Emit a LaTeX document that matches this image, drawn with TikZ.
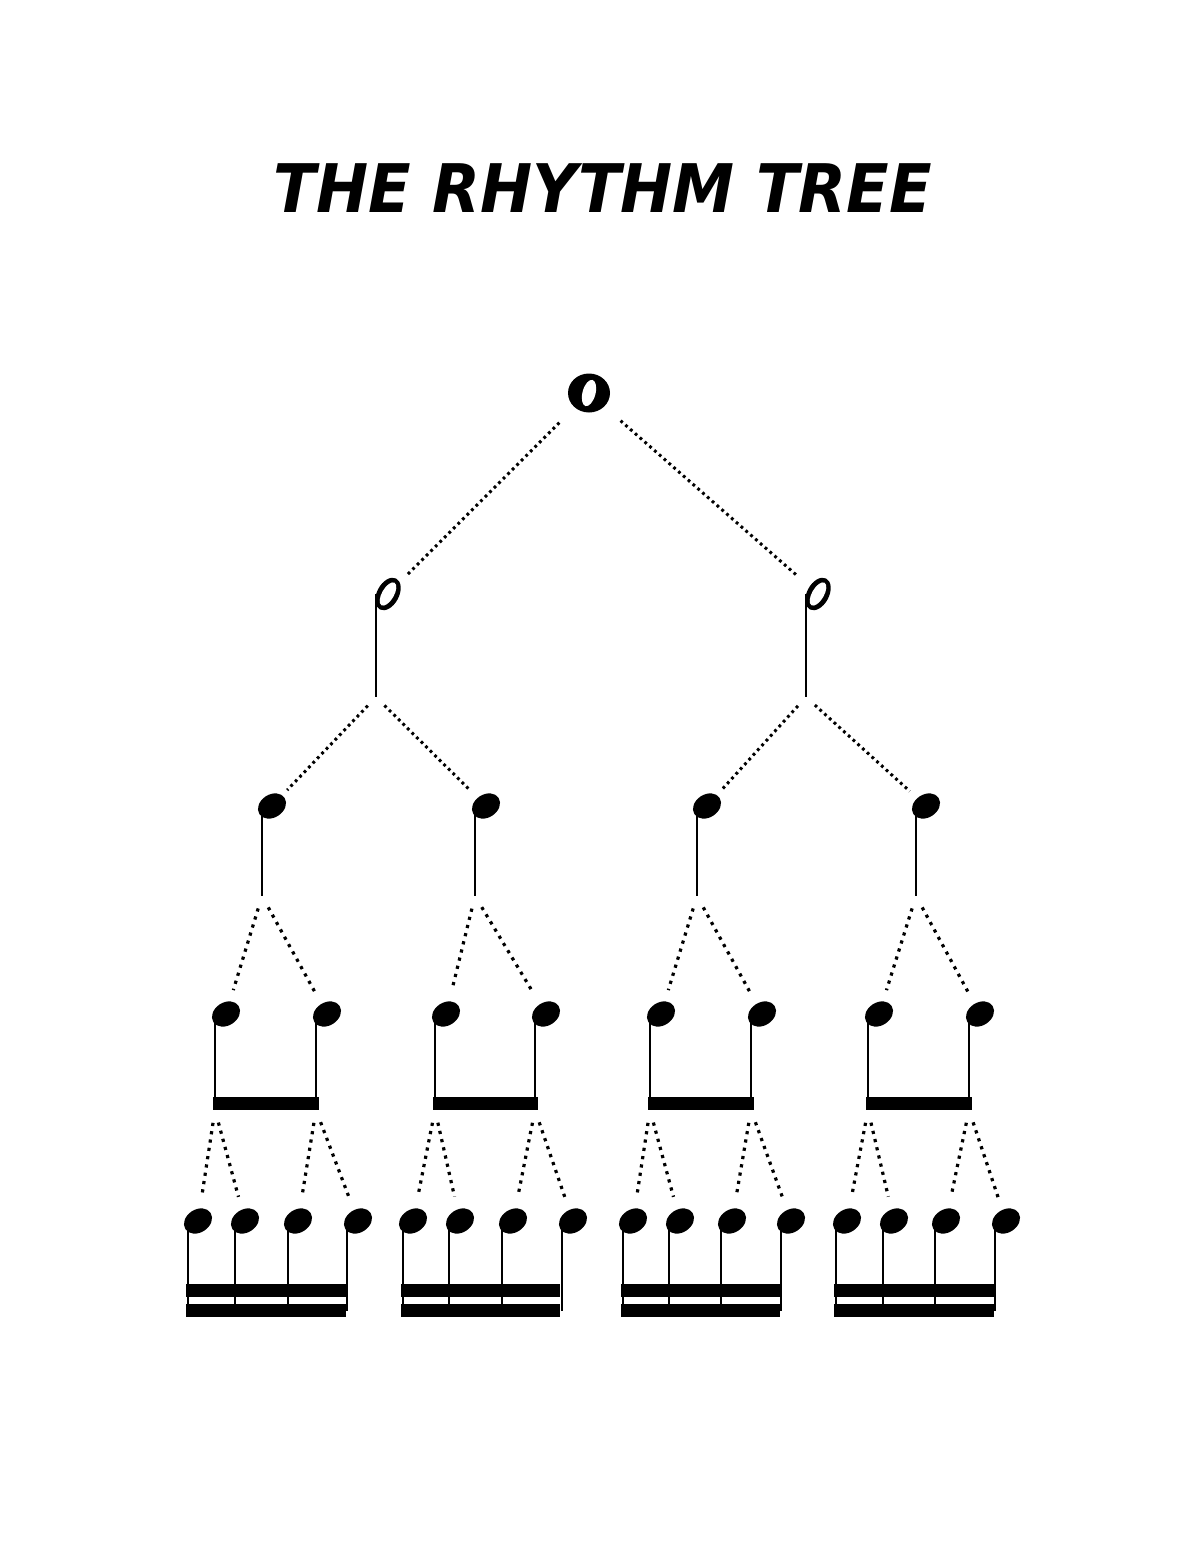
\documentclass[tikz,border=0pt]{standalone}
\usepackage{fontspec}
\newfontfamily\titlefont{DejaVu Sans}
\usetikzlibrary{shapes.geometric}

\begin{document}
\begin{tikzpicture}[x=1pt,y=-1pt,
    notehead/.style={ellipse,fill,inner sep=0pt,minimum width=30pt,minimum height=23pt,rotate=33},
    stemline/.style={line width=2.6pt},
    link/.style={line width=3pt,dash pattern=on 2.8pt off 3.6pt},
    twig/.style={line width=3.2pt,dash pattern=on 3.2pt off 5.2pt,shorten <=13pt,shorten >=25pt}]
    \useasboundingbox (0,0) rectangle (1200,1553);

    \node[font=\titlefont\bfseries\itshape\fontsize{67}{80}\selectfont,anchor=base,xscale=0.93] (title) at (603,212) {THE RHYTHM TREE};

    % whole note
    \coordinate (w) at (589,393);
    \fill (w) ellipse (21 and 19.5);
    \fill[white,rotate around={-15:(w)}] (w) ellipse (6.5 and 13.5);

    % half notes
    \coordinate (h1) at (388,594);
    \coordinate (h2) at (818,594);
    \fill[rotate around={62:(h1)}] (h1) ellipse (17.5 and 11);
    \fill[white,rotate around={60:(h1)}] (h1) ellipse (13 and 6);
    \fill[rotate around={62:(h2)}] (h2) ellipse (17.5 and 11);
    \fill[white,rotate around={60:(h2)}] (h2) ellipse (13 and 6);
    \coordinate (h1b) at (376,697);
    \coordinate (h2b) at (806,697);
    \draw[stemline] (h1b |- h1) -- (h1b);
    \draw[stemline] (h2b |- h2) -- (h2b);

    % quarter notes
    \node[notehead] (q1) at (272,806) {};
    \node[notehead] (q2) at (486,806) {};
    \node[notehead] (q3) at (707,806) {};
    \node[notehead] (q4) at (926,806) {};
    \coordinate (q1b) at (262,896);
    \coordinate (q2b) at (475,896);
    \coordinate (q3b) at (697,896);
    \coordinate (q4b) at (916,896);
    \draw[stemline] (q1b |- q1) -- (q1b);
    \draw[stemline] (q2b |- q2) -- (q2b);
    \draw[stemline] (q3b |- q3) -- (q3b);
    \draw[stemline] (q4b |- q4) -- (q4b);

    % eighth notes
    \node[notehead] (e1) at (226,1014) {};
    \node[notehead] (e2) at (327,1014) {};
    \node[notehead] (e3) at (446,1014) {};
    \node[notehead] (e4) at (546,1014) {};
    \node[notehead] (e5) at (661,1014) {};
    \node[notehead] (e6) at (762,1014) {};
    \node[notehead] (e7) at (879,1014) {};
    \node[notehead] (e8) at (980,1014) {};
    \coordinate (e1b) at (215,1110);
    \coordinate (e2b) at (316,1110);
    \coordinate (e3b) at (435,1110);
    \coordinate (e4b) at (535,1110);
    \coordinate (e5b) at (650,1110);
    \coordinate (e6b) at (751,1110);
    \coordinate (e7b) at (868,1110);
    \coordinate (e8b) at (969,1110);
    \draw[stemline] (e1b |- e1) -- (e1b);
    \draw[stemline] (e2b |- e2) -- (e2b);
    \draw[stemline] (e3b |- e3) -- (e3b);
    \draw[stemline] (e4b |- e4) -- (e4b);
    \draw[stemline] (e5b |- e5) -- (e5b);
    \draw[stemline] (e6b |- e6) -- (e6b);
    \draw[stemline] (e7b |- e7) -- (e7b);
    \draw[stemline] (e8b |- e8) -- (e8b);
    \fill (213,1097) rectangle (319,1110);
    \fill (433,1097) rectangle (538,1110);
    \fill (648,1097) rectangle (754,1110);
    \fill (866,1097) rectangle (972,1110);

    % sixteenth notes
    \node[notehead] (s1) at (198,1221) {};
    \node[notehead] (s2) at (245,1221) {};
    \node[notehead] (s3) at (298,1221) {};
    \node[notehead] (s4) at (358,1221) {};
    \node[notehead] (s5) at (413,1221) {};
    \node[notehead] (s6) at (460,1221) {};
    \node[notehead] (s7) at (513,1221) {};
    \node[notehead] (s8) at (573,1221) {};
    \node[notehead] (s9) at (633,1221) {};
    \node[notehead] (s10) at (680,1221) {};
    \node[notehead] (s11) at (732,1221) {};
    \node[notehead] (s12) at (791,1221) {};
    \node[notehead] (s13) at (847,1221) {};
    \node[notehead] (s14) at (894,1221) {};
    \node[notehead] (s15) at (946,1221) {};
    \node[notehead] (s16) at (1006,1221) {};
    \coordinate (s1b) at (188,1311);
    \coordinate (s2b) at (235,1311);
    \coordinate (s3b) at (288,1311);
    \coordinate (s4b) at (347,1311);
    \coordinate (s5b) at (403,1311);
    \coordinate (s6b) at (449,1311);
    \coordinate (s7b) at (502,1311);
    \coordinate (s8b) at (562,1311);
    \coordinate (s9b) at (623,1311);
    \coordinate (s10b) at (669,1311);
    \coordinate (s11b) at (721,1311);
    \coordinate (s12b) at (781,1311);
    \coordinate (s13b) at (836,1311);
    \coordinate (s14b) at (883,1311);
    \coordinate (s15b) at (935,1311);
    \coordinate (s16b) at (995,1311);
    \draw[stemline] (s1b |- s1) -- (s1b);
    \draw[stemline] (s2b |- s2) -- (s2b);
    \draw[stemline] (s3b |- s3) -- (s3b);
    \draw[stemline] (s4b |- s4) -- (s4b);
    \draw[stemline] (s5b |- s5) -- (s5b);
    \draw[stemline] (s6b |- s6) -- (s6b);
    \draw[stemline] (s7b |- s7) -- (s7b);
    \draw[stemline] (s8b |- s8) -- (s8b);
    \draw[stemline] (s9b |- s9) -- (s9b);
    \draw[stemline] (s10b |- s10) -- (s10b);
    \draw[stemline] (s11b |- s11) -- (s11b);
    \draw[stemline] (s12b |- s12) -- (s12b);
    \draw[stemline] (s13b |- s13) -- (s13b);
    \draw[stemline] (s14b |- s14) -- (s14b);
    \draw[stemline] (s15b |- s15) -- (s15b);
    \draw[stemline] (s16b |- s16) -- (s16b);
    \fill (186,1284) rectangle (346,1297);
    \fill (186,1304) rectangle (346,1317);
    \fill (401,1284) rectangle (560,1297);
    \fill (401,1304) rectangle (560,1317);
    \fill (621,1284) rectangle (780,1297);
    \fill (621,1304) rectangle (780,1317);
    \fill (834,1284) rectangle (994,1297);
    \fill (834,1304) rectangle (994,1317);

    % dotted branches
    \path[link,shorten <=42pt,shorten >=26pt] (w) edge (h1) edge (h2);
    \path[link,shorten <=12pt,shorten >=22pt] (h1b) edge (q1.center) edge (q2.center);
    \path[link,shorten <=12pt,shorten >=22pt] (h2b) edge (q3.center) edge (q4.center);
    \path[twig] (q1b) edge (e1.center) edge (e2.center);
    \path[twig] (q2b) edge (e3.center) edge (e4.center);
    \path[twig] (q3b) edge (e5.center) edge (e6.center);
    \path[twig] (q4b) edge (e7.center) edge (e8.center);
    \path[twig] (e1b) edge (s1.center) edge (s2.center);
    \path[twig] (e2b) edge (s3.center) edge (s4.center);
    \path[twig] (e3b) edge (s5.center) edge (s6.center);
    \path[twig] (e4b) edge (s7.center) edge (s8.center);
    \path[twig] (e5b) edge (s9.center) edge (s10.center);
    \path[twig] (e6b) edge (s11.center) edge (s12.center);
    \path[twig] (e7b) edge (s13.center) edge (s14.center);
    \path[twig] (e8b) edge (s15.center) edge (s16.center);
\end{tikzpicture}
\end{document}
